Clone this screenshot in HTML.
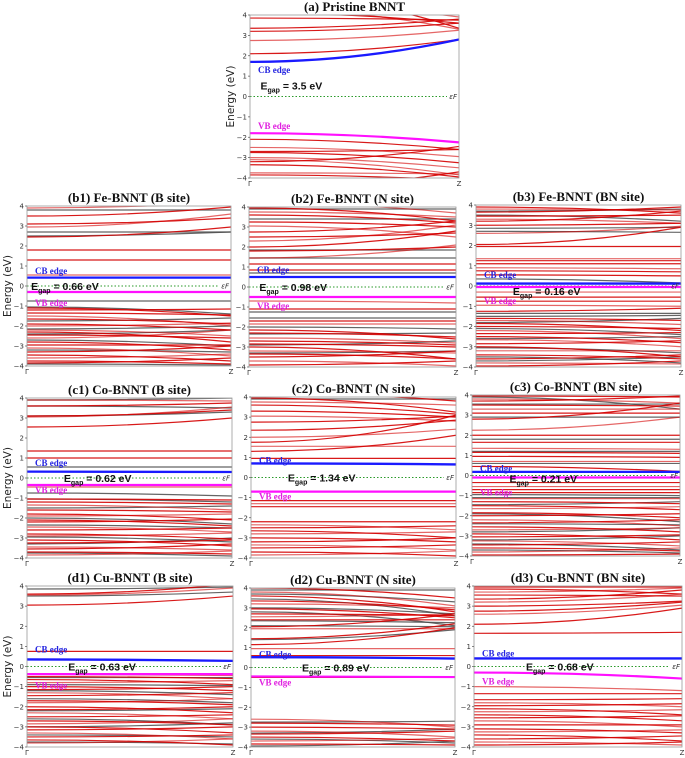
<!DOCTYPE html>
<html><head><meta charset="utf-8">
<style>
html,body{margin:0;padding:0;background:#fff;}
svg{display:block;}
.t{font-family:"Liberation Serif",serif;font-weight:bold;font-size:13px;fill:#111;}
.tk{font-family:"DejaVu Sans","Liberation Sans",sans-serif;font-size:7px;fill:#333;}
.yl{font-family:"DejaVu Sans","Liberation Sans",sans-serif;font-size:10.5px;fill:#222;}
.cb{font-family:"Liberation Serif",serif;font-weight:bold;font-size:9px;fill:#2424e0;}
.vb{font-family:"Liberation Serif",serif;font-weight:bold;font-size:9px;fill:#e020e0;}
.gp{font-family:"Liberation Sans",sans-serif;font-weight:bold;font-size:10.5px;fill:#111;}
</style></head>
<body>
<svg id="fig" width="685" height="758" viewBox="0 0 685 758"></svg>
<script>
const yTicks=[4,3,2,1,0,-1,-2,-3,-4];
const panelTitles=["(a) Pristine BNNT","(b1) Fe-BNNT (B site)","(b2) Fe-BNNT (N site)","(b3) Fe-BNNT (BN site)","(c1) Co-BNNT (B site)","(c2) Co-BNNT (N site)","(c3) Co-BNNT (BN site)","(d1) Cu-BNNT (B site)","(d2) Cu-BNNT (N site)","(d3) Cu-BNNT (BN site)"];
const gapValues=["3.5","0.66","0.98","0.16","0.62","1.34","0.21","0.63","0.89","0.68"];
const cbEdges=[[1.7,2.8],[0.42,0.42],[0.5,0.5],[0.12,0.12],[0.32,0.3],[0.7,0.65],[0.18,0.18],[0.35,0.28],[0.52,0.45],[0.4,0.4]];
const vbEdges=[[-1.8,-2.25],[-0.3,-0.3],[-0.5,-0.5],[-0.05,-0.05],[-0.35,-0.35],[-0.7,-0.7],[-0.1,-0.1],[-0.38,-0.38],[-0.45,-0.48],[-0.3,-0.6]];
const a_red=[[2.1,2.8],[2.75,3.25],[3.2,3.6],[3.35,3.8],[4.3,3.3],[4.1,3.6],[3.85,3.75],[4.6,3.9],[5,3.35],[-2.1,-2.6],[-2.5,-2.95],[-2.7,-2.6],[-2.75,-3.25],[-3.1,-3.85],[-3.2,-2.45],[-3.35,-3.95],[-3.75,-3.8],[-3.85,-4.1],[-4.5,-3.7],[-3.0,-3.5]];
const a_gray=[];
const b1_red=[[2.45,2.95],[2.95,3.6],[3.1,3.4],[3.5,3.95],[3.9,4.2],[1.8,1.8],[1.3,1.3],[0.55,0.55],[-1.1,-1.5],[-1.35,-1.45],[-1.5,-2.0],[-1.65,-1.9],[-1.9,-2.2],[-2.0,-1.85],[-2.3,-2.8],[-2.45,-2.6],[-2.6,-2.2],[-2.8,-3.2],[-2.95,-2.95],[-3.1,-3.5],[-3.3,-3.0],[-3.45,-3.75],[-3.6,-3.4],[-3.75,-3.9],[-3.85,-3.6],[-2.2,-2.5],[-1.2,-1.15]];
const b1_gray=[[2.7,2.7],[3.8,3.8],[2.5,2.7],[-0.75,-0.75],[-1.05,-1.4],[-1.75,-1.6],[-2.15,-2.0],[-2.7,-3.0],[-3.2,-3.3],[-3.9,-3.95],[-2.4,-2.2]];
const b2_red=[[3.95,3.3],[3.75,3.5],[3.6,3.2],[3.25,3.0],[3.05,2.5],[2.75,3.3],[2.5,2.7],[2.3,3.1],[2.0,2.8],[1.8,2.0],[1.45,2.1],[1.15,1.15],[0.85,0.85],[-0.7,-0.8],[-1.1,-1.1],[-1.7,-1.7],[-1.85,-1.85],[-2.15,-2.6],[-2.3,-2.5],[-2.55,-2.8],[-2.7,-2.9],[-2.85,-3.0],[-3.2,-3.3],[-3.35,-3.6],[-3.5,-3.2],[-3.7,-3.95],[-3.9,-3.7],[-3.0,-3.6],[4.2,3.7]];
const b2_gray=[[3.9,3.9],[3.4,3.4],[1.85,1.85],[1.45,1.45],[0.7,0.7],[-1.25,-1.25],[-1.55,-1.55],[-2.0,-2.1],[-2.35,-2.3],[-2.9,-2.7],[-3.3,-3.2]];
const b3_red=[[3.9,3.6],[3.8,3.75],[3.65,3.9],[3.45,3.5],[3.3,3.1],[3.2,3.7],[3.0,3.1],[2.6,2.95],[2.05,2.9],[1.95,1.95],[1.35,1.35],[1.25,1.25],[1.1,1.1],[0.9,0.85],[0.75,0.7],[0.55,0.5],[-0.3,-0.3],[-0.55,-0.55],[-0.75,-0.75],[-0.95,-1.0],[-1.25,-1.1],[-1.6,-1.7],[-1.7,-1.9],[-1.85,-2.2],[-2.0,-2.1],[-2.2,-2.6],[-2.35,-2.3],[-2.5,-2.8],[-2.65,-3.0],[-2.85,-2.7],[-3.0,-3.5],[-3.2,-3.2],[-3.4,-3.6],[-3.6,-3.4],[-3.8,-3.85],[-3.95,-3.7]];
const b3_gray=[[3.7,3.8],[3.5,3.2],[2.85,2.9],[2.7,2.65],[0.35,0.15],[-1.35,-1.35],[-1.5,-1.45],[-1.8,-1.6],[-2.1,-2.4],[-2.6,-2.5],[-3.05,-3.3],[-3.5,-3.8],[-3.7,-3.5]];
const c1_red=[[2.55,3.0],[3.05,3.55],[3.1,3.4],[3.6,3.75],[3.9,3.85],[1.35,1.35],[1.0,1.0],[-0.45,-0.45],[-1.05,-1.1],[-1.2,-1.3],[-1.35,-1.6],[-1.6,-1.7],[-1.8,-2.1],[-1.9,-1.8],[-2.1,-2.4],[-2.2,-2.05],[-2.45,-2.7],[-2.6,-2.5],[-2.8,-3.05],[-2.9,-2.75],[-3.1,-3.4],[-3.25,-3.1],[-3.45,-3.6],[-3.55,-3.3],[-3.7,-3.8],[-3.85,-3.65]];
const c1_gray=[[3.6,3.5],[3.9,4.0],[3.1,3.3],[0.55,0.55],[-0.75,-0.9],[-1.05,-1.2],[-1.5,-1.4],[-2.0,-2.3],[-2.35,-2.5],[-2.95,-3.2],[-3.3,-3.0],[-3.75,-3.9]];
const c2_red=[[3.95,3.25],[3.75,3.6],[3.6,3.15],[3.3,3.0],[3.05,2.8],[2.75,3.05],[2.35,2.85],[2.0,2.4],[1.75,3.1],[1.3,2.1],[1.55,1.55],[0.95,0.95],[-1.15,-1.15],[-1.3,-1.3],[-1.45,-1.45],[-2.2,-2.2],[-2.35,-2.6],[-2.5,-2.4],[-2.65,-3.0],[-2.8,-2.7],[-3.0,-3.2],[-3.2,-3.0],[-3.35,-3.6],[-3.5,-3.35],[-3.7,-3.9],[-3.85,-3.65],[4.2,3.8]];
const c2_gray=[[3.9,3.9]];
const c3_red=[[3.95,3.9],[3.8,3.6],[3.7,3.95],[3.5,3.45],[3.3,3.3],[3.1,3.1],[2.8,3.6],[2.25,2.9],[2.0,2.0],[1.65,1.65],[1.35,1.3],[1.15,1.1],[0.95,0.9],[0.7,0.7],[0.45,0.2],[-0.35,-0.35],[-0.55,-0.55],[-0.7,-0.7],[-0.85,-0.85],[-1.15,-1.15],[-1.3,-1.4],[-1.5,-1.7],[-1.65,-1.55],[-1.85,-2.1],[-2.0,-1.9],[-2.2,-2.5],[-2.35,-2.2],[-2.55,-2.8],[-2.7,-2.6],[-2.9,-3.2],[-3.05,-2.95],[-3.25,-3.5],[-3.45,-3.3],[-3.6,-3.75],[-3.8,-3.6],[-3.95,-3.9]];
const c3_gray=[[3.9,3.3],[3.55,3.55],[2.9,2.9],[1.8,1.8],[1.2,1.2],[0.6,0.6],[-0.95,-1.0],[-1.1,-1.1],[-1.45,-1.3],[-1.9,-2.3],[-2.4,-2.45],[-2.8,-2.6],[-3.2,-3.0],[-3.4,-3.7],[-3.7,-3.85]];
const d1_red=[[3.05,3.5],[3.55,3.9],[3.6,4.1],[0.75,0.75],[-0.4,-0.45],[-0.5,-0.6],[-0.65,-0.9],[-0.8,-0.7],[-1.0,-1.2],[-1.15,-1.0],[-1.3,-1.6],[-1.45,-1.3],[-1.7,-1.9],[-1.8,-1.6],[-2.0,-2.3],[-2.15,-2.0],[-2.3,-2.6],[-2.5,-2.4],[-2.7,-2.9],[-2.85,-2.6],[-3.0,-3.3],[-3.15,-3.0],[-3.3,-3.6],[-3.5,-3.4],[-3.65,-3.9],[-3.8,-3.6]];
const d1_gray=[[3.5,3.7],[3.85,3.95],[-0.55,-0.55],[-0.9,-0.95],[-1.2,-1.4],[-1.6,-1.8],[-2.2,-2.1],[-2.6,-2.9],[-3.0,-2.8],[-3.4,-3.5],[-3.75,-3.85]];
const d2_red=[[4.0,3.5],[3.8,3.1],[3.6,2.8],[3.35,2.9],[3.2,3.0],[2.95,2.5],[2.7,2.6],[2.55,2.7],[2.4,2.4],[2.05,2.7],[1.95,1.95],[1.45,2.2],[1.15,2.0],[0.95,0.95],[0.6,0.6],[-0.5,-0.5],[-2.6,-3.0],[-2.8,-2.9],[-3.0,-3.1],[-3.2,-3.5],[-3.35,-3.2],[-3.5,-3.7],[-3.7,-3.55],[-3.85,-3.9]];
const d2_gray=[[3.9,3.9],[3.7,3.3],[3.45,2.6],[3.0,2.7],[2.8,2.1],[2.35,2.25],[2.1,2.05],[1.4,1.9],[-2.75,-2.7],[-3.3,-3.1],[-3.6,-3.8],[-3.95,-3.7]];
const d3_red=[[3.85,3.6],[3.7,3.9],[3.55,3.5],[3.35,3.8],[3.2,3.6],[3.0,3.25],[2.75,3.2],[2.6,3.05],[2.1,2.9],[1.65,1.7],[-1.0,-1.2],[-1.35,-1.35],[-1.65,-1.6],[-1.8,-2.0],[-1.95,-1.85],[-2.1,-2.4],[-2.25,-2.15],[-2.4,-2.7],[-2.55,-2.45],[-2.7,-3.0],[-2.9,-2.9],[-3.1,-3.3],[-3.25,-3.15],[-3.4,-3.7],[-3.6,-3.45],[-3.75,-3.9],[-3.9,-3.75],[3.95,3.95]];
const d3_gray=[];
const redSets=[a_red,b1_red,b2_red,b3_red,c1_red,c2_red,c3_red,d1_red,d2_red,d3_red];
const graySets=[a_gray,b1_gray,b2_gray,b3_gray,c1_gray,c2_gray,c3_gray,d1_gray,d2_gray,d3_gray];

const boxes=[[250,459,15,178],[27,231,206,366],[249,456,207,367],[476,681,205,367],[27,232,398,558],[251,456,397,558],[472,680,395,556],[27,233,586,747],[251,455,588,747],[474,682,586,747]];
const gapPos=[[0.05,0.5],[0.02,-0.05],[0.05,-0.05],[0.18,-0.3],[0.18,-0.05],[0.18,-0.05],[0.18,-0.2],[0.2,-0.05],[0.25,-0.05],[0.25,-0.05]];
const cbLab=[1.3,0.75,0.85,0.55,0.75,0.85,0.35,0.85,0.65,0.65];
const vbLab=[-1.45,-0.85,-0.95,-0.75,-0.6,-0.95,-0.85,-0.95,-0.75,-0.75];
const yTitle=[true,true,false,false,true,false,false,true,false,false];

const NS='http://www.w3.org/2000/svg';
const svg=document.getElementById('fig');
function mk(tag,attrs,parent){const e=document.createElementNS(NS,tag);for(const k in attrs)e.setAttribute(k,attrs[k]);(parent||svg).appendChild(e);return e;}

for(let p=0;p<10;p++){
  const [x0,x1,yt,yb]=boxes[p];
  const g=mk('g',{});
  
  
  const Y=e=>yt+(4-e)*(yb-yt)/8;
  const X=f=>x0+f*(x1-x0);
  const clipId='clip'+p;
  const cp=mk('clipPath',{id:clipId},g);mk('rect',{x:x0,y:yt,width:x1-x0,height:yb-yt},cp);
  const plot=mk('g',{'clip-path':'url(#'+clipId+')'},g);
  
  
  const band=(s,e,col,w,op,name)=>{
    const path=mk('path',{d:`M${x0},${Y(s)} Q${X(0.5)},${Y(s)} ${x1},${Y(e)}`,fill:'none',stroke:col,'stroke-width':w,'stroke-opacity':op},plot);
    
    
  };
  graySets[p].forEach(b=>band(b[0],b[1],'#4a4a4a',1.2,0.85,'band-gray'));
  redSets[p].forEach((b,i)=>band(b[0],b[1],'#d40000',1.2,i%3===1?0.6:0.9,'band-red'));
  const fl=mk('line',{x1:x0,x2:x1-12,y1:Y(0),y2:Y(0),stroke:'#2a9a2a','stroke-width':1,'stroke-dasharray':'1.5,2'},plot);
  
  
  band(cbEdges[p][0],cbEdges[p][1],'#1a1aff',2.3,1,'cb-edge-line');
  band(vbEdges[p][0],vbEdges[p][1],'#ff10ff',2.2,1,'vb-edge-line');
  const fr=mk('rect',{x:x0,y:yt,width:x1-x0,height:yb-yt,fill:'none',stroke:'#999','stroke-width':0.8},g);
  
  
  yTicks.forEach(v=>{
    mk('line',{x1:x0-2,x2:x0,y1:Y(v),y2:Y(v),stroke:'#555','stroke-width':0.7},g);
    const t=mk('text',{x:x0-3,y:Y(v)+2.5,'text-anchor':'end',class:'tk'},g);
    t.textContent=(v<0?'\u2212'+(-v):String(v));
    
    
  });
  const gx=mk('text',{x:x0,y:yb+8,'text-anchor':'middle',class:'tk'},g);gx.textContent='\u0393';
  
  
  const zx=mk('text',{x:x1,y:yb+8,'text-anchor':'middle',class:'tk'},g);zx.textContent='Z';
  
  
  const ef=mk('text',{x:x1-2,y:Y(0)+2.5,'text-anchor':'end',class:'tk','font-style':'italic'},g);ef.textContent='\u03b5F';
  
  
  const tt=mk('text',{x:(x0+x1)/2,y:yt-4,'text-anchor':'middle',class:'t'},g);tt.textContent=panelTitles[p];
  
  
  if(yTitle[p]){
    const yl=mk('text',{x:0,y:0,'text-anchor':'middle',class:'yl',transform:`translate(${x0-16},${(yt+yb)/2}) rotate(-90)`},g);
    yl.textContent='Energy (eV)';
    
    
  }
  const cb=mk('text',{x:x0+8,y:Y(cbLab[p])+3,class:'cb'},g);cb.textContent='CB edge';
  
  
  const vb=mk('text',{x:x0+8,y:Y(vbLab[p])+3,class:'vb'},g);vb.textContent='VB edge';
  
  
  const gp=mk('text',{x:X(gapPos[p][0]),y:Y(gapPos[p][1])+3,class:'gp'},g);
  
  
  const t1=mk('tspan',{},gp);t1.textContent='E';
  const t2=mk('tspan',{dy:3,'font-size':'7px'},gp);t2.textContent='gap';
  const t3=mk('tspan',{dy:-3},gp);t3.textContent=' = '+gapValues[p]+' eV';
}
</script>
</body></html>
